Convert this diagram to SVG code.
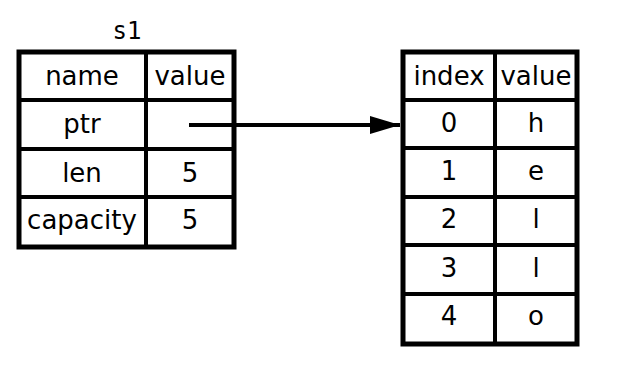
<svg xmlns="http://www.w3.org/2000/svg" width="621" height="389" viewBox="0 0 621 389">
<style>
.frame{fill:#fff;stroke:#000;stroke-width:5}
.grid{stroke:#000;stroke-width:4}
.t{font-family:"DejaVu Sans",sans-serif;font-size:26px;fill:#000;text-anchor:middle}
.mono{font-family:"DejaVu Sans Mono",monospace;font-size:24px;fill:#000;text-anchor:middle}
.conn{stroke:#000;stroke-width:4;fill:none}
</style>
<defs>
<marker id="ah" markerUnits="userSpaceOnUse" markerWidth="30" markerHeight="20" refX="30" refY="10" orient="auto">
<path d="M0,1 L30,10 L0,19 Z" fill="#000"/>
</marker>
</defs>
<rect width="621" height="389" fill="#fff"/>
<g id="s1">
<text class="mono" x="127" y="39">s1</text>
<rect class="frame" x="19" y="52" width="215" height="195"/>
<line class="grid" x1="146" y1="52" x2="146" y2="247"/>
<line class="grid" x1="19" y1="100" x2="234" y2="100"/>
<line class="grid" x1="19" y1="149" x2="234" y2="149"/>
<line class="grid" x1="19" y1="197" x2="234" y2="197"/>
<text class="t" x="82" y="85">name</text>
<text class="t" x="190" y="85">value</text>
<text class="t" x="82" y="133">ptr</text>
<text class="t" x="82" y="182">len</text>
<text class="t" x="190" y="182">5</text>
<text class="t" x="82" y="229">capacity</text>
<text class="t" x="190" y="229">5</text>
</g>
<g id="heap">
<rect class="frame" x="403" y="52" width="174" height="292"/>
<line class="grid" x1="495" y1="52" x2="495" y2="344"/>
<line class="grid" x1="403" y1="100" x2="577" y2="100"/>
<line class="grid" x1="403" y1="148" x2="577" y2="148"/>
<line class="grid" x1="403" y1="197" x2="577" y2="197"/>
<line class="grid" x1="403" y1="245" x2="577" y2="245"/>
<line class="grid" x1="403" y1="294" x2="577" y2="294"/>
<text class="t" x="449" y="85">index</text>
<text class="t" x="536" y="85">value</text>
<text class="t" x="449" y="132">0</text>
<text class="t" x="536" y="132">h</text>
<text class="t" x="449" y="180">1</text>
<text class="t" x="536" y="180">e</text>
<text class="t" x="449" y="228">2</text>
<text class="t" x="536" y="228">l</text>
<text class="t" x="449" y="277">3</text>
<text class="t" x="536" y="277">l</text>
<text class="t" x="449" y="325">4</text>
<text class="t" x="536" y="325">o</text>
</g>
<g id="connectors">
<line class="conn" x1="189" y1="125" x2="400" y2="125" marker-end="url(#ah)"/>
</g>
</svg>
